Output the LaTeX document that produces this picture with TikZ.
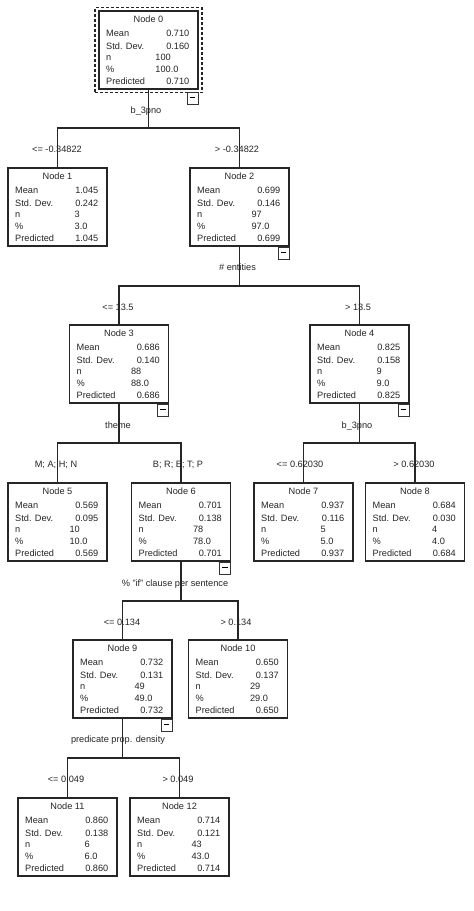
\documentclass[tikz,border=0pt]{standalone}
\usepackage{fontspec}
\setmainfont{Liberation Sans}
\newcommand{\fsz}{\fontsize{9.2}{11}\selectfont}
\tikzset{
  tbox/.style={draw=black!85, line width=1.3pt, minimum width=99pt, minimum height=78pt, inner sep=0pt, fill=white},
  ttl/.style={anchor=base, inner sep=0pt, font=\fsz, text=black!85},
  tlft/.style={anchor=base west, inner sep=0pt, font=\fsz, text=black!85},
  trgt/.style={anchor=base east, inner sep=0pt, font=\fsz, text=black!85},
  elbl/.style={anchor=base, inner sep=0pt, font=\fsz, text=black!85},
  link/.style={draw=black!85, line width=1.2pt},
  mbox/.style={draw=black!80, line width=0.9pt, minimum width=11pt, minimum height=12pt, inner sep=0pt, fill=white, anchor=north east},
  focus/.style={draw=black!85, line width=1.2pt, dash pattern=on 3pt off 2pt, minimum width=107pt, minimum height=85pt, inner sep=0pt},
}
% #1 name, #2 centre x, #3 top y, #4 title, #5 mean, #6 sd, #7 n, #8 predicted
\newcommand{\tnode}[8]{%
  \node[tbox] (#1) at (#2, #3+39) {};
  \node[ttl]  (#1-title) at (#2, #3+11.3) {#4};
  \node[tlft] (#1-l1) at (#2-42.5, #3+25.3) {Mean};
  \node[trgt] (#1-v1) at (#2+41, #3+25.3) {#5};
  \node[tlft] (#1-l2) at (#2-42.5, #3+38.3) {Std. Dev.};
  \node[trgt] (#1-v2) at (#2+41, #3+38.3) {#6};
  \node[tlft] (#1-l3) at (#2-42.5, #3+49.3) {n};
  \node[trgt] (#1-v3) at (#2+22.5, #3+49.3) {#7};
  \node[tlft] (#1-l4) at (#2-42.5, #3+61.3) {\%};
  \node[trgt] (#1-v4) at (#2+22.5, #3+61.3) {#7\rlap{.0}};
  \node[tlft] (#1-l5) at (#2-42.5, #3+73.3) {Predicted};
  \node[trgt] (#1-v5) at (#2+41, #3+73.3) {#8};
}
\newcommand{\mbx}[2]{%
  \node[mbox] (#1-minus) at ([yshift=-#2]#1.south east) {\rule[1pt]{5.5pt}{1.3pt}};
}
\begin{document}
\begin{tikzpicture}[x=1pt,y=-1pt]
\fill[white] (0,0) rectangle (474,911);
\useasboundingbox (0,0) rectangle (474,911);

% coordinates of split bars
\coordinate (s0) at (148.5,128);
\coordinate (s2) at (239.5,286);
\coordinate (s3) at (119,443);
\coordinate (s4) at (359.5,443);
\coordinate (s6) at (181,601);
\coordinate (s9) at (122.5,758);

\tnode{n0}{148.5}{11}{Node 0}{0.710}{0.160}{100}{0.710}
\node[focus] (n0-focus) at (n0) {};
\tnode{n1}{57.5}{168}{Node 1}{1.045}{0.242}{3}{1.045}
\tnode{n2}{239.5}{168}{Node 2}{0.699}{0.146}{97}{0.699}
\tnode{n3}{119}{325}{Node 3}{0.686}{0.140}{88}{0.686}
\tnode{n4}{359.5}{325}{Node 4}{0.825}{0.158}{9}{0.825}
\tnode{n5}{57.5}{483}{Node 5}{0.569}{0.095}{10}{0.569}
\tnode{n6}{181}{483}{Node 6}{0.701}{0.138}{78}{0.701}
\tnode{n7}{303.5}{483}{Node 7}{0.937}{0.116}{5}{0.937}
\tnode{n8}{415}{483}{Node 8}{0.684}{0.030}{4}{0.684}
\tnode{n9}{122.5}{640}{Node 9}{0.732}{0.131}{49}{0.732}
\tnode{n10}{238}{640}{Node 10}{0.650}{0.137}{29}{0.650}
\tnode{n11}{67.5}{798}{Node 11}{0.860}{0.138}{6}{0.860}
\tnode{n12}{179.5}{798}{Node 12}{0.714}{0.121}{43}{0.714}

% connectors
\draw[link] (n0.south) -- (s0);
\draw[link] (n1.north) |- (s0);
\draw[link] (n2.north) |- (s0);
\draw[link] (n2.south) -- (s2);
\draw[link] (n3.north) |- (s2);
\draw[link] (n4.north) |- (s2);
\draw[link] (n3.south) -- (s3);
\draw[link] (n5.north) |- (s3);
\draw[link] (n6.north) |- (s3);
\draw[link] (n4.south) -- (s4);
\draw[link] (n7.north) |- (s4);
\draw[link] (n8.north) |- (s4);
\draw[link] (n6.south) -- (s6);
\draw[link] (n9.north) |- (s6);
\draw[link] (n10.north) |- (s6);
\draw[link] (n9.south) -- (s9);
\draw[link] (n11.north) |- (s9);
\draw[link] (n12.north) |- (s9);

% minus boxes
\mbx{n0}{2pt}
\mbx{n2}{0pt}
\mbx{n3}{0pt}
\mbx{n4}{0pt}
\mbx{n6}{0pt}
\mbx{n9}{0pt}

% split variable labels
\node[elbl] (v0) at (146,113.3) {b\_3pno};
\node[elbl] (v2) at (237.5,270.3) {\# entities};
\node[elbl] (v3) at (118,428.3) {theme};
\node[elbl] (v4) at (357,428.3) {b\_3pno};
\node[elbl] (v6) at (175,586.3) {\% "if" clause per sentence};
\node[elbl] (v9) at (118,742.3) {predicate prop. density};

% branch labels
\node[elbl] (e1) at (57,152.3) {<= -0.34822};
\node[elbl] (e2) at (237,152.3) {> -0.34822};
\node[elbl] (e3) at (118,310.3) {<= 13.5};
\node[elbl] (e4) at (358,310.3) {> 13.5};
\node[elbl] (e5) at (56,467.3) {M; A; H; N};
\node[elbl] (e6) at (178,467.3) {B; R; E; T; P};
\node[elbl] (e7) at (300,467.3) {<= 0.62030};
\node[elbl] (e8) at (414,467.3) {> 0.62030};
\node[elbl] (e9) at (122,625.3) {<= 0.134};
\node[elbl] (e10) at (236,625.3) {> 0.134};
\node[elbl] (e11) at (66,782.3) {<= 0.049};
\node[elbl] (e12) at (178,782.3) {> 0.049};
\end{tikzpicture}
\end{document}
